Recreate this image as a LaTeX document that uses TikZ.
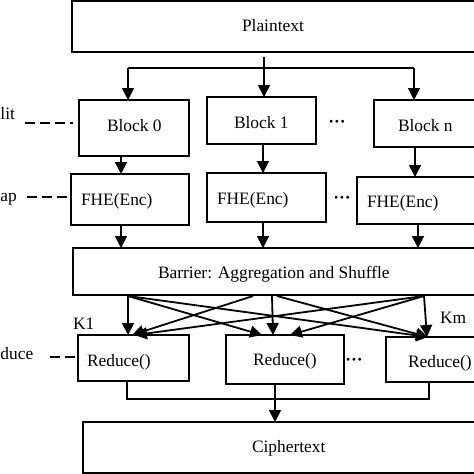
\documentclass[tikz,border=0pt]{standalone}
\usepackage{fontspec}
\setmainfont{Liberation Serif}
\usetikzlibrary{arrows.meta,fit}
\begin{document}
\begin{tikzpicture}[x=1pt,y=-1pt,
  box/.style={draw, line width=1.8pt, inner sep=0pt, outer sep=0pt},
  txt/.style={inner sep=0pt, outer sep=0pt, anchor=base west, font=\fontsize{17.4}{20}\selectfont},
  dots/.style={inner sep=0pt, outer sep=0pt, anchor=base, font=\fontsize{17.4}{20}\selectfont\bfseries},
  arr/.style={line width=1.8pt, -{Triangle[length=12pt,width=12pt]}},
  ln/.style={line width=1.8pt},
  dashln/.style={line width=1.8pt, dash pattern=on 10pt off 5pt},
]
\useasboundingbox (0,0) rectangle (474,474);
\clip (0,0) rectangle (474,474);

% boxes
\node[box, fit={(72,1) (480,52)}] (plain) {};
\node[box, fit={(79,100) (189,156)}] (b0) {};
\node[box, fit={(207,97) (316,144)}] (b1) {};
\node[box, fit={(374,100) (480,147)}] (bn) {};
\node[box, fit={(71,174) (189,225)}] (f0) {};
\node[box, fit={(207,173) (326,222)}] (f1) {};
\node[box, fit={(357,177) (480,224)}] (fn) {};
\node[box, fit={(73,248) (480,295)}] (bar) {};
\node[box, fit={(78,335) (189,381)}] (r0) {};
\node[box, fit={(226,335) (344,384)}] (r1) {};
\node[box, fit={(386,337) (480,382)}] (rn) {};
\node[box, fit={(83,422) (480,473)}] (ciph) {};

% texts
\node[txt] (tplain) at (242,31) {Plaintext};
\node[txt] (tb0) at (107,131) {Block 0};
\node[txt] (tb1) at (234,128) {Block 1};
\node[txt] (tbn) at (398,131) {Block n};
\node[txt] (tf0) at (81,205) {FHE(Enc)};
\node[txt] (tf1) at (217,204) {FHE(Enc)};
\node[txt] (tfn) at (367,207) {FHE(Enc)};
\node[txt] (tbar) at (158,278) {Barrier: Aggregation and Shuffle};
\node[txt] (tr0) at (87,366) {Reduce()};
\node[txt] (tr1) at (253,365) {Reduce()};
\node[txt] (trn) at (408,367) {Reduce()};
\node[txt] (tciph) at (252,452) {Ciphertext};
\node[txt] (k1) at (73,329) {K1};
\node[txt] (km) at (440,323) {Km};
\node[txt] (lsplit) at (0.5,119) {lit};
\node[txt] (lmap) at (0.5,201) {ap};
\node[txt] (lred) at (0.5,359) {duce};
\node[dots] (d1) at (337,127) {···};
\node[dots] (d2) at (342,203) {···};
\node[dots] (d3) at (354,365) {···};

% dashed leaders
\coordinate (cs) at (25,123);
\coordinate (cm) at (27,197);
\coordinate (cr) at (50,357);
\draw[dashln] (cs) -- (73,123);
\draw[dashln] (cm) -- (cm -| f0.west);
\draw[dashln] (cr) -- (cr -| r0.west);

% split
\coordinate (p0) at (264,57);
\coordinate (hl) at (128,68);
\coordinate (hr) at (414,68);
\draw[arr] (p0) -- (p0 |- b1.north);
\draw[ln] (hl) -- (hr);
\draw[arr] (hl) -- (hl |- b0.north);
\draw[arr] (hr) -- (hr |- bn.north);

% block -> FHE
\draw[arr] (121,0 |- b0.south) -- (121,0 |- f0.north);
\draw[arr] (263,0 |- b1.south) -- (263,0 |- f1.north);
\draw[arr] (415,0 |- bn.south) -- (415,0 |- fn.north);

% FHE -> barrier
\draw[arr] (121,0 |- f0.south) -- (121,0 |- bar.north);
\draw[arr] (263,0 |- f1.south) -- (263,0 |- bar.north);
\draw[arr] (418,0 |- fn.south) -- (418,0 |- bar.north);

% shuffle
\coordinate (s0) at (128,296);
\coordinate (s1l) at (253,296);
\coordinate (s1) at (272,296);
\coordinate (s1r) at (277,296);
\coordinate (s2) at (424,296);
\draw[arr] (s0) -- (128,0 |- r0.north);
\draw[arr] (s1l) -- (132,0 |- r0.north);
\draw[arr] (s2) -- (135,0 |- r0.north);
\draw[arr] (s0) -- (262,0 |- r1.north);
\draw[arr] (s1) -- (273,0 |- r1.north);
\draw[arr] (s2) -- (290,0 |- r1.north);
\draw[arr] (s0) -- (428,0 |- rn.north);
\draw[arr] (s1r) -- (428,0 |- rn.north);
\draw[arr] (s2) -- (427,0 |- rn.north);

% reduce -> ciphertext
\coordinate (jl) at (127,399);
\coordinate (jr) at (429,399);
\draw[ln] (jl |- r0.south) -- (jl) -- (jr) -- (jr |- rn.south);
\draw[arr] (275,0 |- r1.south) -- (275,0 |- ciph.north);
\end{tikzpicture}
\end{document}
